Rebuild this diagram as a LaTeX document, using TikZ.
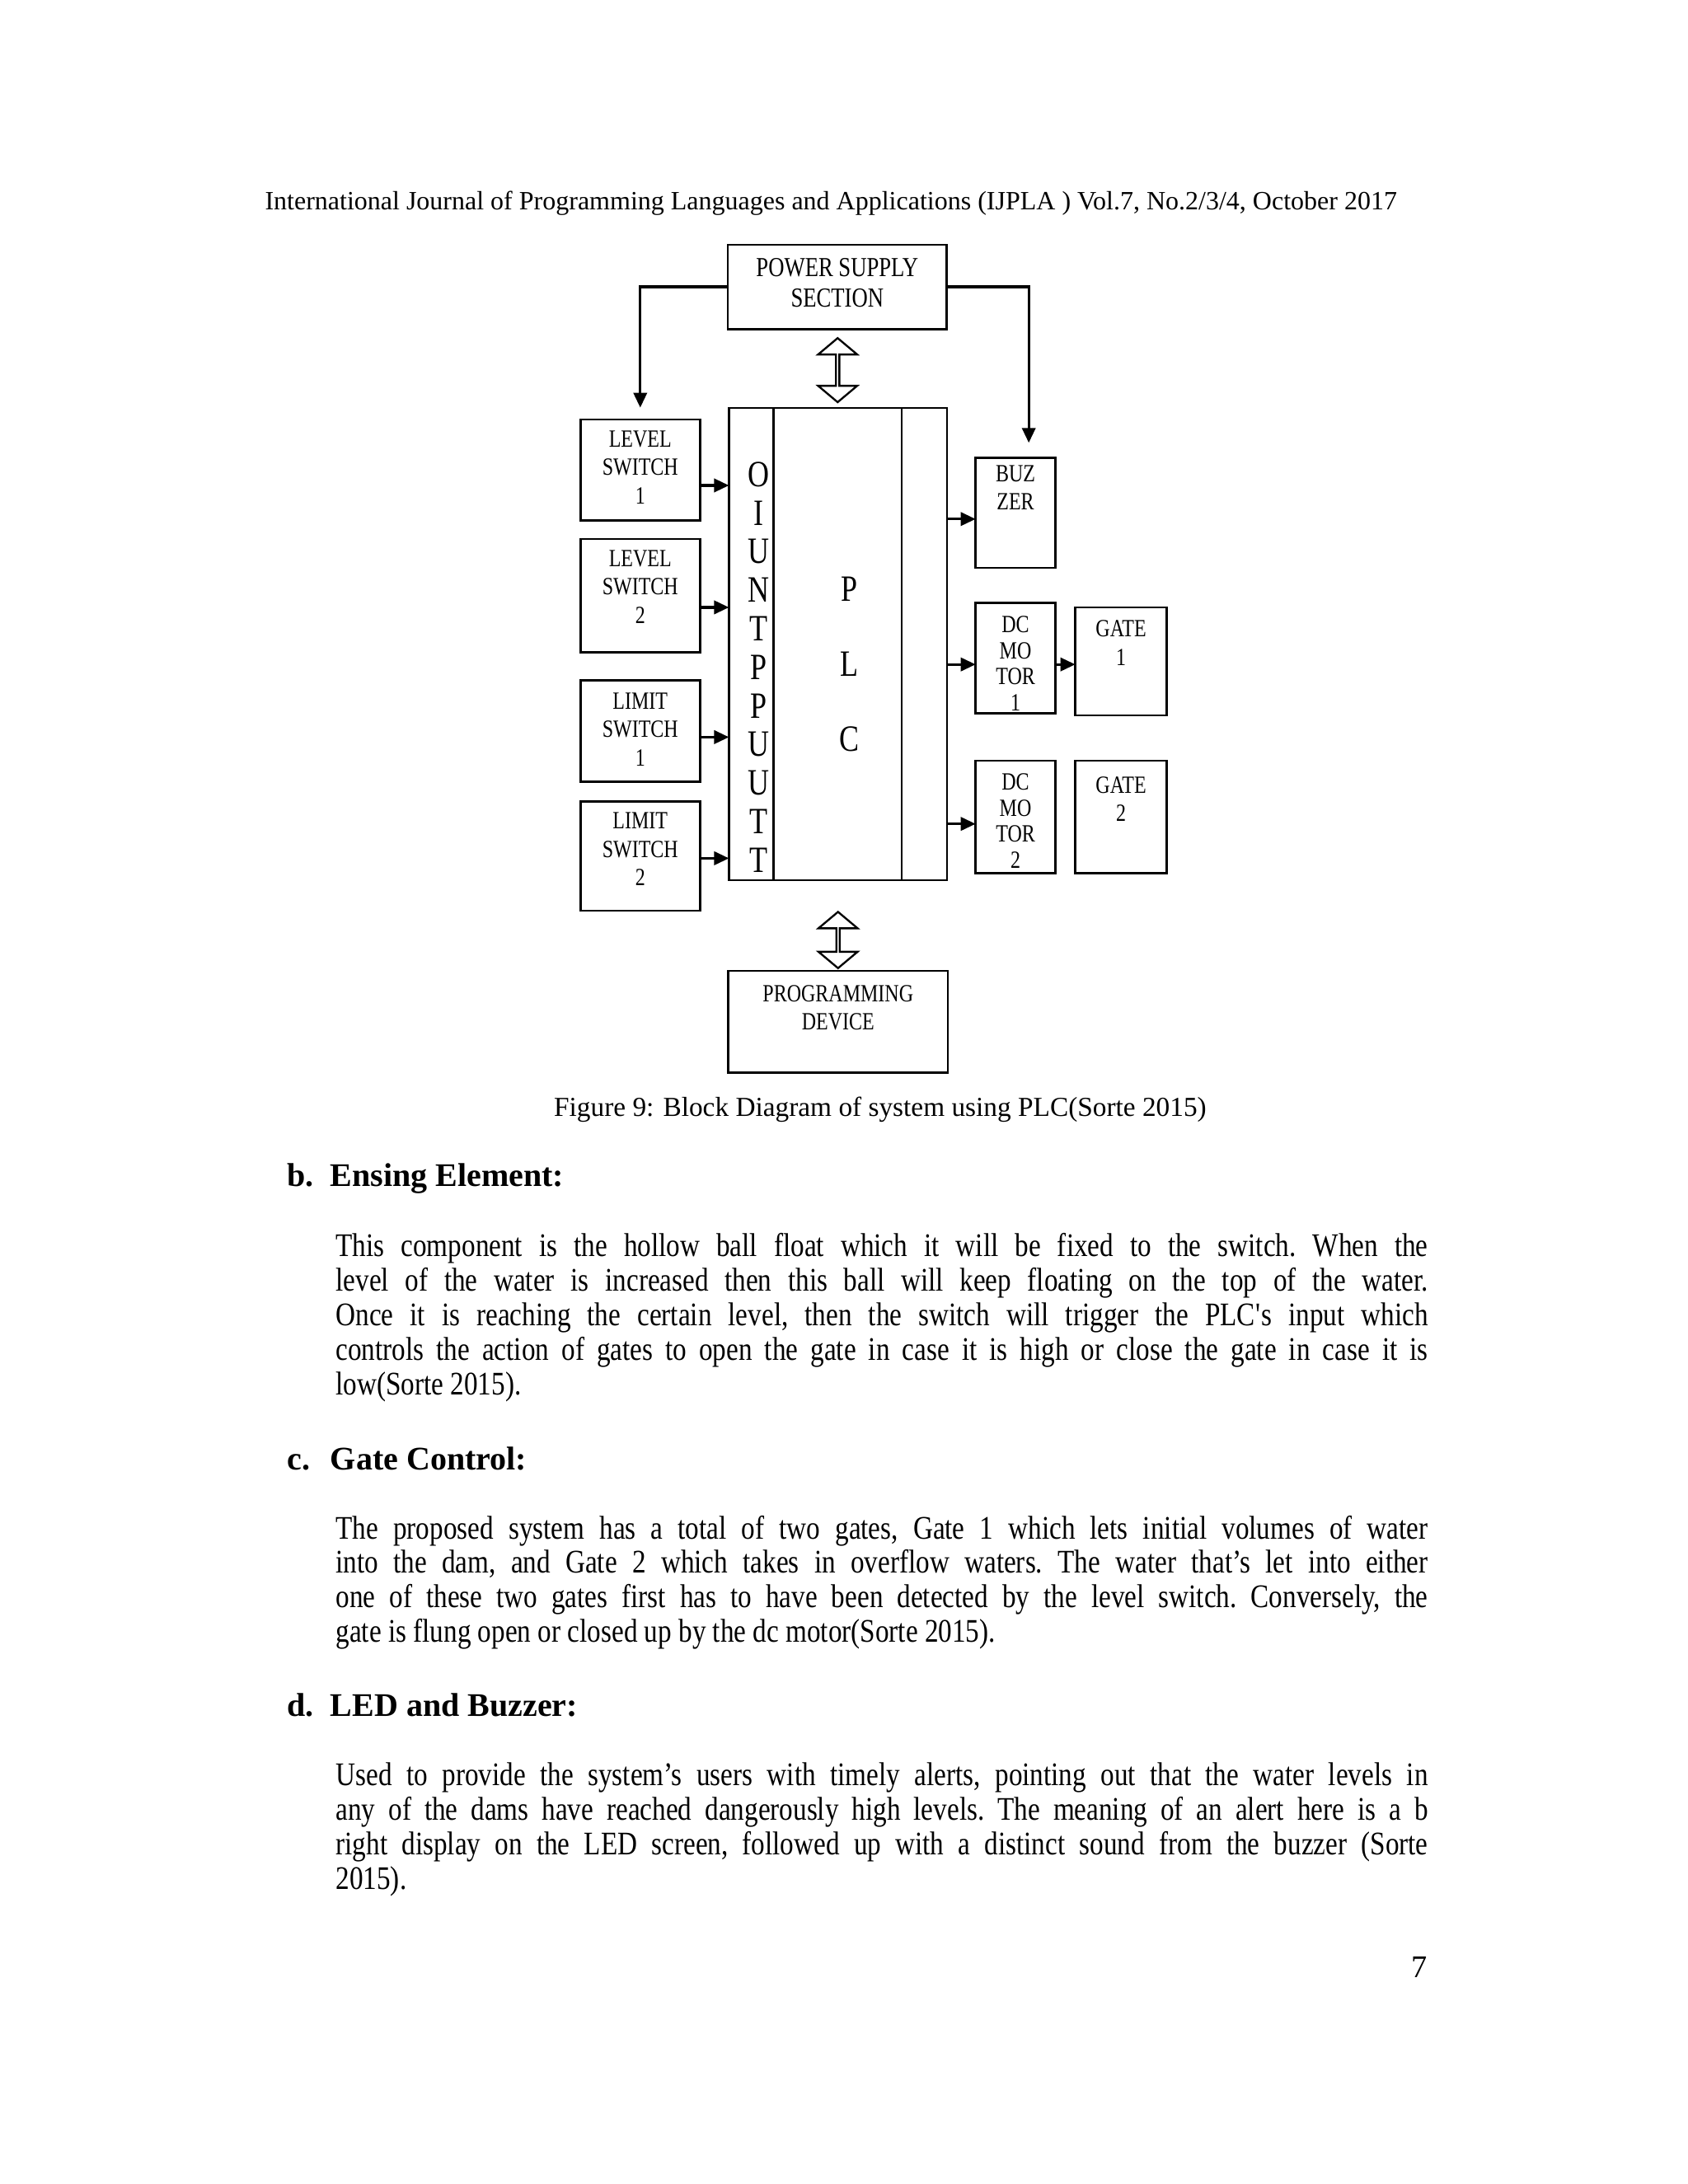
\documentclass[tikz,border=0pt]{standalone}
\usepackage{fontspec}
\setmainfont{Liberation Serif}[FakeStretch=0.83]
\newfontfamily\plainfont{Liberation Serif}
\newfontfamily\diagfont{Liberation Serif}[FakeStretch=0.8]
\usetikzlibrary{arrows.meta,positioning,calc,shapes.arrows}

\begin{document}
\begin{tikzpicture}

    \tikzstyle{blk}=[draw,line width=0.8pt,inner sep=0pt,outer sep=0pt]
    \tikzstyle{lbl}=[font=\diagfont\fontsize{9}{10.3}\selectfont,align=center,inner sep=0pt,anchor=north,yshift=-0.14cm]
    \tikzstyle{conn}=[line width=1pt,-{Triangle[length=0.19cm,width=0.17cm]}]
    \tikzstyle{bus}=[double arrow,draw,fill=white,line width=0.7pt,shape border rotate=90,minimum width=0.5cm,double arrow head extend=0.13cm,double arrow tip angle=100,inner sep=0pt]
    \tikzstyle{col}=[font=\diagfont\fontsize{13.5}{13.5}\selectfont,inner sep=0pt]
    \tikzstyle{para}=[anchor=north west,text width=13.97cm,align=justify,inner sep=0pt,font=\fontsize{12}{12.55}\selectfont\frenchspacing]
    \tikzstyle{head}=[anchor=base west,inner sep=0pt,font=\plainfont\fontsize{12}{12.55}\selectfont\bfseries]

\path[use as bounding box,fill=white] (0,0) rectangle (21.59,-27.94);

\node (header) [anchor=base,inner sep=0pt,font=\plainfont\fontsize{9.6}{12}\selectfont] at (10.63,-2.68) {International Journal of Programming Languages and Applications (IJPLA ) Vol.7, No.2/3/4, October 2017};

% blocks
\node (ps) [blk,minimum width=2.80cm,minimum height=1.08cm,label={[lbl,font=\diagfont\fontsize{10}{11}\selectfont,yshift=-0.03cm]north:{POWER SUPPLY\\SECTION}}] at (10.71,-3.67) {};
\node (plc) [blk,minimum width=2.79cm,minimum height=6.04cm] at (10.72,-8.24) {};
\node (pd) [blk,minimum width=2.81cm,minimum height=1.30cm,label={[lbl,yshift=-0.04cm]north:{PROGRAMMING\\DEVICE}}] at (10.72,-13.07) {};

\draw[line width=0.7pt] ([xshift=0.57cm]plc.north west) -- ([xshift=0.57cm]plc.south west);
\draw[line width=0.7pt] ([xshift=-0.58cm]plc.north east) -- ([xshift=-0.58cm]plc.south east);

\foreach \ch [count=\i from 0] in {O,I,U,N,T,P,P,U,U,T,T}
    \node (io_\i) [col] at (9.70,-6.07-0.493*\i) {\ch};
\foreach \ch [count=\i from 0] in {P,L,C}
    \node (plc_\i) [col] at (10.86,-7.54-0.96*\i) {\ch};

\node (ls1) [blk,minimum width=1.53cm,minimum height=1.29cm,label={[lbl]north:{LEVEL\\SWITCH\\1}}] at (8.19,-6.01) {};
\node (ls2) [blk,minimum width=1.53cm,minimum height=1.45cm,label={[lbl]north:{LEVEL\\SWITCH\\2}}] at (8.19,-7.62) {};
\node (lm1) [blk,minimum width=1.53cm,minimum height=1.30cm,label={[lbl,yshift=-0.02cm]north:{LIMIT\\SWITCH\\1}}] at (8.19,-9.35) {};
\node (lm2) [blk,minimum width=1.53cm,minimum height=1.40cm,label={[lbl]north:{LIMIT\\SWITCH\\2}}] at (8.19,-10.95) {};

\node (buz) [blk,minimum width=1.02cm,minimum height=1.41cm,label={[lbl,yshift=0.05cm]north:{BUZ\\ZER}}] at (12.99,-6.56) {};
\node (dc1) [blk,minimum width=1.02cm,minimum height=1.41cm,label={[lbl,font=\diagfont\fontsize{9}{9.5}\selectfont,yshift=-0.02cm]north:{DC\\MO\\TOR\\1}}] at (12.99,-8.42) {};
\node (dc2) [blk,minimum width=1.02cm,minimum height=1.44cm,label={[lbl,font=\diagfont\fontsize{9}{9.5}\selectfont,yshift=-0.02cm]north:{DC\\MO\\TOR\\2}}] at (12.99,-10.45) {};
\node (g1) [blk,minimum width=1.17cm,minimum height=1.38cm,label={[lbl,yshift=-0.02cm]north:{GATE\\1}}] at (14.34,-8.46) {};
\node (g2) [blk,minimum width=1.17cm,minimum height=1.44cm,label={[lbl,yshift=-0.06cm]north:{GATE\\2}}] at (14.34,-10.45) {};

% buses
\node (bus_ps) [bus,minimum height=0.82cm] at ($(ps.south)!0.52!(plc.north)$) {};
\node (bus_pd) [bus,minimum height=0.72cm] at ($(plc.south)!0.66!(pd.north)$) {};

% connectors
\draw[conn] (ps.west) -| ([yshift=0.15cm]ls1.north);
\draw[conn] (ps.east) -| ([xshift=0.17cm,yshift=0.19cm]buz.north);

\draw[conn] ([yshift=-0.20cm]ls1.east) -- ([yshift=-0.20cm]ls1.east -| plc.west);
\draw[conn] ([yshift=-0.15cm]ls2.east) -- ([yshift=-0.15cm]ls2.east -| plc.west);
\draw[conn] ([yshift=-0.08cm]lm1.east) -- ([yshift=-0.08cm]lm1.east -| plc.west);
\draw[conn] ([yshift=-0.03cm]lm2.east) -- ([yshift=-0.03cm]lm2.east -| plc.west);

\draw[conn] ([yshift=-0.08cm]buz.west -| plc.east) -- ([yshift=-0.08cm]buz.west);
\draw[conn] ([yshift=-0.08cm]dc1.west -| plc.east) -- ([yshift=-0.08cm]dc1.west);
\draw[conn] ([yshift=-0.09cm]dc2.west -| plc.east) -- ([yshift=-0.09cm]dc2.west);
\draw[conn] ([yshift=-0.08cm]dc1.east) -- ([yshift=-0.08cm]dc1.east -| g1.west);

\node (caption) [anchor=base,inner sep=0pt,font=\plainfont\fontsize{10}{12}\selectfont] at (11.26,-14.28) {Figure 9: Block Diagram of system using PLC(Sorte 2015)};

% text
\node (head_b) [head] at (3.67,-15.18) {\makebox[0.55cm][l]{b.}Ensing Element:};
\node (para_b) [para] at (4.29,-15.76) {\strut This component is the hollow ball float which it will be fixed to the switch. When the\linebreak
level of the water is increased then this ball will keep floating on the top of the water.\linebreak
Once it is reaching the certain level, then the switch will trigger the PLC\textquotesingle s input which\linebreak
controls the action of gates to open the gate in case it is high or close the gate in case it is\linebreak
low(Sorte 2015).};

\node (head_c) [head] at (3.67,-18.80) {\makebox[0.55cm][l]{c.}Gate Control:};
\node (para_c) [para] at (4.29,-19.37) {\strut The proposed system has a total of two gates, Gate 1 which lets initial volumes of water\linebreak
into the dam, and Gate 2 which takes in overflow waters. The water that’s let into either\linebreak
one of these two gates first has to have been detected by the level switch. Conversely, the\linebreak
gate is flung open or closed up by the dc motor(Sorte 2015).};

\node (head_d) [head] at (3.67,-21.96) {\makebox[0.55cm][l]{d.}LED and Buzzer:};
\node (para_d) [para] at (4.29,-22.53) {\strut Used to provide the system’s users with timely alerts, pointing out that the water levels in\linebreak
any of the dams have reached dangerously high levels. The meaning of an alert here is a b\linebreak
right display on the LED screen, followed up with a distinct sound from the buzzer (Sorte\linebreak
2015).};

\node (pagenum) [anchor=base east,inner sep=0pt,font=\plainfont\fontsize{11.5}{12.55}\selectfont] at (18.26,-25.30) {7};

\end{tikzpicture}
\end{document}
